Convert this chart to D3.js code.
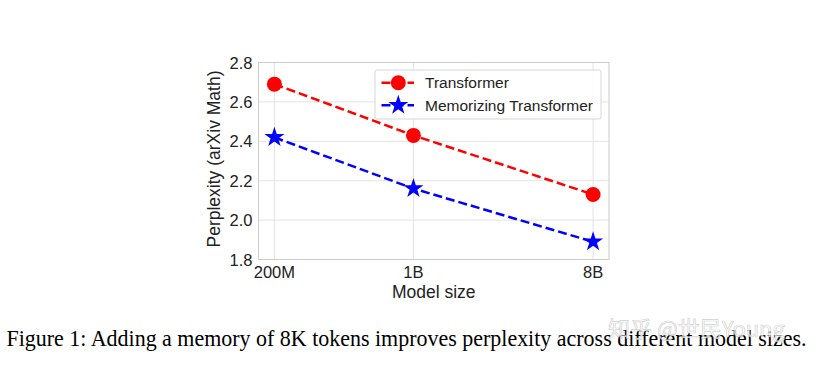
<!DOCTYPE html>
<html>
<head>
<meta charset="utf-8">
<script src="https://cdn.jsdelivr.net/npm/d3@7"></script>
<style>
  html, body { margin: 0; padding: 0; background: #fff; }
  svg { display: block; }
</style>
</head>
<body>
<div id="chart"></div>
<script>
// data
const modelSizes = [2e8, 1e9, 8e9]
const modelLabels = ['200M', '1B', '8B']
const transformerPpl = [2.69, 2.43, 2.13]
const memorizingPpl = [2.42, 2.16, 1.89]
const yTicks = [1.8, 2.0, 2.2, 2.4, 2.6, 2.8]
const seriesNames = ['Transformer', 'Memorizing Transformer']
const caption = 'Figure 1: Adding a memory of 8K tokens improves perplexity across different model sizes.'
const watermark = '知乎 @世民Young'

const width = 832
const height = 370

const svg = d3.select('#chart')
  .append('svg')
  .attr('width', width)
  .attr('height', height)

// plot box
const plotL = 258.5, plotR = 609, plotT = 62.5, plotB = 259.5

// matplotlib pads log axis by 5% of the decade span each side
const pad = Math.pow(10, 0.08)
const x = d3.scaleLog()
  .domain([modelSizes[0] / pad, modelSizes[2] * pad])
  .range([plotL, plotR])

const y = d3.scaleLinear()
  .domain([1.8, 2.8])
  .range([plotB, plotT])

const sans = 'Liberation Sans, Arial, Helvetica, sans-serif'
const textColor = '#222'

// grid
const grid = svg.append('g')
grid.selectAll('line.gy')
  .data(yTicks)
  .join('line')
  .attr('class', 'gy')
  .attr('x1', plotL).attr('x2', plotR)
  .attr('y1', d => y(d)).attr('y2', d => y(d))
  .attr('stroke', '#e3e3e3')
  .attr('stroke-width', 1)

grid.selectAll('line.gx')
  .data(modelSizes)
  .join('line')
  .attr('class', 'gx')
  .attr('x1', d => x(d)).attr('x2', d => x(d))
  .attr('y1', plotT).attr('y2', plotB)
  .attr('stroke', '#e3e3e3')
  .attr('stroke-width', 1)

// frame
svg.append('rect')
  .attr('x', plotL).attr('y', plotT)
  .attr('width', plotR - plotL).attr('height', plotB - plotT)
  .attr('fill', 'none')
  .attr('stroke', '#cccccc')
  .attr('stroke-width', 1)

// tick labels
svg.append('g').selectAll('text')
  .data(yTicks)
  .join('text')
  .attr('x', plotL - 6)
  .attr('y', d => y(d))
  .attr('text-anchor', 'end')
  .attr('dominant-baseline', 'central')
  .attr('fill', textColor)
  .style('font-family', sans)
  .style('font-size', '16.5px')
  .text(d => d.toFixed(1))

svg.append('g').selectAll('text')
  .data(modelSizes)
  .join('text')
  .attr('x', d => x(d))
  .attr('y', 277.5)
  .attr('text-anchor', 'middle')
  .attr('fill', textColor)
  .style('font-family', sans)
  .style('font-size', '16.5px')
  .text((d, i) => modelLabels[i])

// axis labels
svg.append('text')
  .attr('x', (plotL + plotR) / 2)
  .attr('y', 298)
  .attr('text-anchor', 'middle')
  .attr('fill', textColor)
  .style('font-family', sans)
  .style('font-size', '17.5px')
  .text('Model size')

svg.append('text')
  .attr('transform', `translate(219.5, ${(plotT + plotB) / 2 - 2}) rotate(-90)`)
  .attr('text-anchor', 'middle')
  .attr('fill', textColor)
  .style('font-family', sans)
  .style('font-size', '17.5px')
  .text('Perplexity (arXiv Math)')

// series
const series = [
  { name: seriesNames[0], values: transformerPpl, color: '#ff0000', marker: 'circle' },
  { name: seriesNames[1], values: memorizingPpl, color: '#0000ff', marker: 'star' }
]

const line = d3.line()
  .x((d, i) => x(modelSizes[i]))
  .y(d => y(d))

const starPath = d3.symbol().type(d3.symbolStar).size(125)

function drawMarker(g, s, cx, cy) {
  if (s.marker === 'circle') {
    g.append('circle')
      .attr('cx', cx).attr('cy', cy)
      .attr('r', 7.5)
      .attr('fill', s.color)
  } else {
    g.append('path')
      .attr('d', starPath())
      .attr('transform', `translate(${cx},${cy})`)
      .attr('fill', s.color)
  }
}

series.forEach(s => {
  const g = svg.append('g')
  g.append('path')
    .attr('d', line(s.values))
    .attr('fill', 'none')
    .attr('stroke', s.color)
    .attr('stroke-width', 2.5)
    .attr('stroke-dasharray', '9,4')
  s.values.forEach((v, i) => drawMarker(g, s, x(modelSizes[i]), y(v)))
})

// legend
const legend = svg.append('g')
legend.append('rect')
  .attr('x', 375).attr('y', 70)
  .attr('width', 226).attr('height', 49)
  .attr('rx', 2)
  .attr('fill', '#fff')
  .attr('fill-opacity', 0.85)
  .attr('stroke', '#d6d6d6')
  .attr('stroke-width', 1)

series.forEach((s, i) => {
  const ly = 82.7 + i * 22.5
  legend.append('line')
    .attr('x1', 381.5).attr('x2', 414)
    .attr('y1', ly).attr('y2', ly)
    .attr('stroke', s.color)
    .attr('stroke-width', 2.5)
    .attr('stroke-dasharray', '9,4')
  drawMarker(legend, s, 398.3, ly)
  legend.append('text')
    .attr('x', 425)
    .attr('y', ly)
    .attr('dominant-baseline', 'central')
    .attr('fill', textColor)
    .style('font-family', sans)
    .style('font-size', '15.5px')
    .text(s.name)
})

// caption
svg.append('text')
  .attr('x', 6.5)
  .attr('y', 346)
  .attr('fill', '#000')
  .attr('textLength', 800)
  .attr('lengthAdjust', 'spacingAndGlyphs')
  .style('font-family', 'Liberation Serif, Times New Roman, serif')
  .style('font-size', '22.5px')
  .text(caption)

// zhihu watermark over caption
svg.append('text')
  .attr('x', 608)
  .attr('y', 337)
  .attr('fill', '#ffffff')
  .attr('fill-opacity', 0.75)
  .attr('stroke', '#a0a0a0')
  .attr('stroke-opacity', 0.5)
  .attr('stroke-width', 0.7)
  .style('font-family', 'Noto Sans CJK SC, sans-serif')
  .style('font-size', '22px')
  .text(watermark)
</script>
</body>
</html>
